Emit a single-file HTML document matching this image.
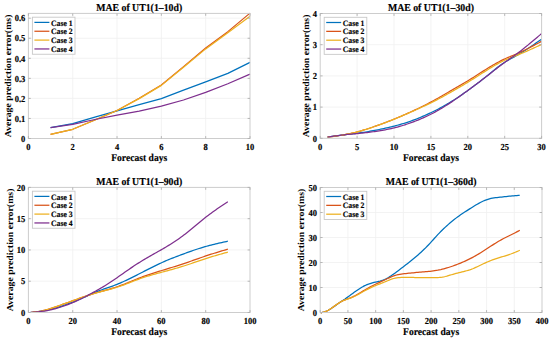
<!DOCTYPE html>
<html><head><meta charset="utf-8"><style>
html,body{margin:0;padding:0;background:#fff;}
body{width:550px;height:341px;overflow:hidden;}
svg text{font-family:"Liberation Serif", serif;font-weight:bold;fill:#000;stroke:#000;stroke-width:0.15px;text-rendering:geometricPrecision;}
svg text.yl{stroke-width:0;}
</style></head><body>
<svg width="550" height="341" viewBox="0 0 550 341" style="display:block">
<rect width="550" height="341" fill="#fff"/>
<line x1="72.72" y1="13.4" x2="72.72" y2="138.5" stroke="#f0f0f0" stroke-width="0.8"/>
<line x1="117.04" y1="13.4" x2="117.04" y2="138.5" stroke="#f0f0f0" stroke-width="0.8"/>
<line x1="161.36" y1="13.4" x2="161.36" y2="138.5" stroke="#f0f0f0" stroke-width="0.8"/>
<line x1="205.68" y1="13.4" x2="205.68" y2="138.5" stroke="#f0f0f0" stroke-width="0.8"/>
<line x1="28.4" y1="118.45" x2="250" y2="118.45" stroke="#f0f0f0" stroke-width="0.8"/>
<line x1="28.4" y1="98.4" x2="250" y2="98.4" stroke="#f0f0f0" stroke-width="0.8"/>
<line x1="28.4" y1="78.36" x2="250" y2="78.36" stroke="#f0f0f0" stroke-width="0.8"/>
<line x1="28.4" y1="58.31" x2="250" y2="58.31" stroke="#f0f0f0" stroke-width="0.8"/>
<line x1="28.4" y1="38.26" x2="250" y2="38.26" stroke="#f0f0f0" stroke-width="0.8"/>
<line x1="28.4" y1="18.21" x2="250" y2="18.21" stroke="#f0f0f0" stroke-width="0.8"/>
<polyline points="50.56,127.59 72.72,123.60 94.88,117.21 117.04,110.83 139.20,104.62 161.36,98.60 183.52,90.18 205.68,81.96 227.84,73.34 250.00,62.42" fill="none" stroke="#0072BD" stroke-width="1.25" stroke-linejoin="round"/>
<polyline points="50.56,134.29 72.72,129.28 94.88,120.00 117.04,110.49 139.20,98.20 161.36,84.97 183.52,66.61 205.68,48.08 227.84,31.64 250.00,13.12" fill="none" stroke="#D95319" stroke-width="1.25" stroke-linejoin="round"/>
<polyline points="50.56,134.29 72.72,129.28 94.88,120.00 117.04,110.49 139.20,98.60 161.36,85.37 183.52,67.33 205.68,48.89 227.84,32.65 250.00,16.21" fill="none" stroke="#EDB120" stroke-width="1.25" stroke-linejoin="round"/>
<polyline points="50.56,127.59 72.72,124.31 94.88,119.49 117.04,115.04 139.20,111.03 161.36,106.22 183.52,100.01 205.68,92.39 227.84,83.77 250.00,74.15" fill="none" stroke="#7E2F8E" stroke-width="1.25" stroke-linejoin="round"/>
<rect x="28.4" y="13.4" width="221.6" height="125.1" fill="none" stroke="#cdcdcd" stroke-width="1"/>
<line x1="28.4" y1="138.5" x2="28.4" y2="136.1" stroke="#b0b0b0" stroke-width="0.9"/>
<line x1="28.4" y1="13.4" x2="28.4" y2="15.8" stroke="#b0b0b0" stroke-width="0.9"/>
<line x1="72.72" y1="138.5" x2="72.72" y2="136.1" stroke="#b0b0b0" stroke-width="0.9"/>
<line x1="72.72" y1="13.4" x2="72.72" y2="15.8" stroke="#b0b0b0" stroke-width="0.9"/>
<line x1="117.04" y1="138.5" x2="117.04" y2="136.1" stroke="#b0b0b0" stroke-width="0.9"/>
<line x1="117.04" y1="13.4" x2="117.04" y2="15.8" stroke="#b0b0b0" stroke-width="0.9"/>
<line x1="161.36" y1="138.5" x2="161.36" y2="136.1" stroke="#b0b0b0" stroke-width="0.9"/>
<line x1="161.36" y1="13.4" x2="161.36" y2="15.8" stroke="#b0b0b0" stroke-width="0.9"/>
<line x1="205.68" y1="138.5" x2="205.68" y2="136.1" stroke="#b0b0b0" stroke-width="0.9"/>
<line x1="205.68" y1="13.4" x2="205.68" y2="15.8" stroke="#b0b0b0" stroke-width="0.9"/>
<line x1="250" y1="138.5" x2="250" y2="136.1" stroke="#b0b0b0" stroke-width="0.9"/>
<line x1="250" y1="13.4" x2="250" y2="15.8" stroke="#b0b0b0" stroke-width="0.9"/>
<line x1="28.4" y1="138.5" x2="30.8" y2="138.5" stroke="#b0b0b0" stroke-width="0.9"/>
<line x1="250" y1="138.5" x2="247.6" y2="138.5" stroke="#b0b0b0" stroke-width="0.9"/>
<line x1="28.4" y1="118.45" x2="30.8" y2="118.45" stroke="#b0b0b0" stroke-width="0.9"/>
<line x1="250" y1="118.45" x2="247.6" y2="118.45" stroke="#b0b0b0" stroke-width="0.9"/>
<line x1="28.4" y1="98.4" x2="30.8" y2="98.4" stroke="#b0b0b0" stroke-width="0.9"/>
<line x1="250" y1="98.4" x2="247.6" y2="98.4" stroke="#b0b0b0" stroke-width="0.9"/>
<line x1="28.4" y1="78.36" x2="30.8" y2="78.36" stroke="#b0b0b0" stroke-width="0.9"/>
<line x1="250" y1="78.36" x2="247.6" y2="78.36" stroke="#b0b0b0" stroke-width="0.9"/>
<line x1="28.4" y1="58.31" x2="30.8" y2="58.31" stroke="#b0b0b0" stroke-width="0.9"/>
<line x1="250" y1="58.31" x2="247.6" y2="58.31" stroke="#b0b0b0" stroke-width="0.9"/>
<line x1="28.4" y1="38.26" x2="30.8" y2="38.26" stroke="#b0b0b0" stroke-width="0.9"/>
<line x1="250" y1="38.26" x2="247.6" y2="38.26" stroke="#b0b0b0" stroke-width="0.9"/>
<line x1="28.4" y1="18.21" x2="30.8" y2="18.21" stroke="#b0b0b0" stroke-width="0.9"/>
<line x1="250" y1="18.21" x2="247.6" y2="18.21" stroke="#b0b0b0" stroke-width="0.9"/>
<text transform="translate(28.40,149.70) scale(1,1.08)" text-anchor="middle" font-size="8.5">0</text>
<text transform="translate(72.72,149.70) scale(1,1.08)" text-anchor="middle" font-size="8.5">2</text>
<text transform="translate(117.04,149.70) scale(1,1.08)" text-anchor="middle" font-size="8.5">4</text>
<text transform="translate(161.36,149.70) scale(1,1.08)" text-anchor="middle" font-size="8.5">6</text>
<text transform="translate(205.68,149.70) scale(1,1.08)" text-anchor="middle" font-size="8.5">8</text>
<text transform="translate(250.00,149.70) scale(1,1.08)" text-anchor="middle" font-size="8.5">10</text>
<text transform="translate(25.30,141.70) scale(1,1.08)" text-anchor="end" font-size="8.5">0</text>
<text transform="translate(25.30,121.65) scale(1,1.08)" text-anchor="end" font-size="8.5">0.1</text>
<text transform="translate(25.30,101.60) scale(1,1.08)" text-anchor="end" font-size="8.5">0.2</text>
<text transform="translate(25.30,81.56) scale(1,1.08)" text-anchor="end" font-size="8.5">0.3</text>
<text transform="translate(25.30,61.51) scale(1,1.08)" text-anchor="end" font-size="8.5">0.4</text>
<text transform="translate(25.30,41.46) scale(1,1.08)" text-anchor="end" font-size="8.5">0.5</text>
<text transform="translate(25.30,21.41) scale(1,1.08)" text-anchor="end" font-size="8.5">0.6</text>
<text transform="translate(139.20,10.50) scale(1,1.08)" text-anchor="middle" font-size="9.8">MAE of UT1(1–10d)</text>
<text transform="translate(139.20,160.90) scale(1,1.08)" text-anchor="middle" font-size="9.6">Forecast days</text>
<text transform="translate(10.80,75.95) scale(1,1.08) rotate(-90)" class="yl" text-anchor="middle" font-size="9.1">Average prediction error(ms)</text>
<rect x="32.4" y="17.2" width="42.6" height="37.05" fill="#fff" stroke="#c8c8c8" stroke-width="0.9"/>
<line x1="34.4" y1="22.4" x2="49.4" y2="22.4" stroke="#0072BD" stroke-width="1.25"/>
<text transform="translate(51.00,25.50) scale(1,1.08)" font-size="7.7">Case 1</text>
<line x1="34.4" y1="31.25" x2="49.4" y2="31.25" stroke="#D95319" stroke-width="1.25"/>
<text transform="translate(51.00,34.35) scale(1,1.08)" font-size="7.7">Case 2</text>
<line x1="34.4" y1="40.1" x2="49.4" y2="40.1" stroke="#EDB120" stroke-width="1.25"/>
<text transform="translate(51.00,43.20) scale(1,1.08)" font-size="7.7">Case 3</text>
<line x1="34.4" y1="48.95" x2="49.4" y2="48.95" stroke="#7E2F8E" stroke-width="1.25"/>
<text transform="translate(51.00,52.05) scale(1,1.08)" font-size="7.7">Case 4</text>
<line x1="357.1" y1="13.5" x2="357.1" y2="138.3" stroke="#f0f0f0" stroke-width="0.8"/>
<line x1="394" y1="13.5" x2="394" y2="138.3" stroke="#f0f0f0" stroke-width="0.8"/>
<line x1="430.9" y1="13.5" x2="430.9" y2="138.3" stroke="#f0f0f0" stroke-width="0.8"/>
<line x1="467.8" y1="13.5" x2="467.8" y2="138.3" stroke="#f0f0f0" stroke-width="0.8"/>
<line x1="504.7" y1="13.5" x2="504.7" y2="138.3" stroke="#f0f0f0" stroke-width="0.8"/>
<line x1="320.2" y1="107.1" x2="541.6" y2="107.1" stroke="#f0f0f0" stroke-width="0.8"/>
<line x1="320.2" y1="75.9" x2="541.6" y2="75.9" stroke="#f0f0f0" stroke-width="0.8"/>
<line x1="320.2" y1="44.7" x2="541.6" y2="44.7" stroke="#f0f0f0" stroke-width="0.8"/>
<polyline points="327.58,137.04 329.10,136.84 330.62,136.64 332.13,136.44 333.65,136.24 335.17,136.04 336.69,135.84 338.21,135.64 339.72,135.44 341.24,135.24 342.76,135.05 344.28,134.85 345.79,134.66 347.31,134.47 348.83,134.28 350.35,134.10 351.87,133.91 353.38,133.73 354.90,133.54 356.42,133.35 357.94,133.15 359.46,132.94 360.97,132.72 362.49,132.49 364.01,132.26 365.53,132.02 367.04,131.77 368.56,131.51 370.08,131.24 371.60,130.97 373.12,130.69 374.63,130.41 376.15,130.11 377.67,129.82 379.19,129.51 380.71,129.20 382.22,128.88 383.74,128.55 385.26,128.22 386.78,127.88 388.29,127.53 389.81,127.18 391.33,126.81 392.85,126.44 394.37,126.05 395.88,125.66 397.40,125.26 398.92,124.84 400.44,124.41 401.96,123.97 403.47,123.51 404.99,123.04 406.51,122.56 408.03,122.06 409.55,121.54 411.06,121.01 412.58,120.45 414.10,119.89 415.62,119.30 417.13,118.71 418.65,118.09 420.17,117.47 421.69,116.83 423.21,116.17 424.72,115.51 426.24,114.83 427.76,114.14 429.28,113.44 430.80,112.73 432.31,112.00 433.83,111.26 435.35,110.50 436.87,109.73 438.38,108.94 439.90,108.13 441.42,107.31 442.94,106.48 444.46,105.63 445.97,104.76 447.49,103.87 449.01,102.97 450.53,102.06 452.05,101.12 453.56,100.17 455.08,99.20 456.60,98.21 458.12,97.21 459.63,96.19 461.15,95.15 462.67,94.11 464.19,93.05 465.71,91.98 467.22,90.89 468.74,89.80 470.26,88.70 471.78,87.59 473.30,86.47 474.81,85.34 476.33,84.20 477.85,83.05 479.37,81.89 480.89,80.72 482.40,79.53 483.92,78.34 485.44,77.13 486.96,75.91 488.47,74.68 489.99,73.44 491.51,72.20 493.03,70.97 494.55,69.74 496.06,68.54 497.58,67.35 499.10,66.19 500.62,65.07 502.14,63.99 503.65,62.96 505.17,61.98 506.69,61.06 508.21,60.18 509.72,59.32 511.24,58.49 512.76,57.67 514.28,56.83 515.80,55.98 517.31,55.11 518.83,54.22 520.35,53.31 521.87,52.37 523.39,51.42 524.90,50.46 526.42,49.48 527.94,48.48 529.46,47.48 530.97,46.46 532.49,45.44 534.01,44.40 535.53,43.36 537.05,42.32 538.56,41.27 540.08,40.21 541.60,39.16" fill="none" stroke="#0072BD" stroke-width="1.25" stroke-linejoin="round"/>
<polyline points="327.58,137.12 329.10,136.94 330.62,136.74 332.13,136.55 333.65,136.35 335.17,136.15 336.69,135.94 338.21,135.73 339.72,135.50 341.24,135.27 342.76,135.02 344.28,134.76 345.79,134.49 347.31,134.20 348.83,133.90 350.35,133.57 351.87,133.23 353.38,132.88 354.90,132.50 356.42,132.11 357.94,131.71 359.46,131.29 360.97,130.86 362.49,130.41 364.01,129.95 365.53,129.49 367.04,129.01 368.56,128.52 370.08,128.02 371.60,127.51 373.12,126.99 374.63,126.46 376.15,125.93 377.67,125.38 379.19,124.83 380.71,124.28 382.22,123.72 383.74,123.15 385.26,122.57 386.78,121.99 388.29,121.41 389.81,120.81 391.33,120.21 392.85,119.60 394.37,118.99 395.88,118.37 397.40,117.74 398.92,117.11 400.44,116.46 401.96,115.81 403.47,115.16 404.99,114.50 406.51,113.83 408.03,113.15 409.55,112.47 411.06,111.78 412.58,111.08 414.10,110.37 415.62,109.66 417.13,108.94 418.65,108.21 420.17,107.48 421.69,106.74 423.21,105.99 424.72,105.23 426.24,104.46 427.76,103.69 429.28,102.90 430.80,102.10 432.31,101.29 433.83,100.47 435.35,99.63 436.87,98.78 438.38,97.93 439.90,97.06 441.42,96.19 442.94,95.32 444.46,94.44 445.97,93.55 447.49,92.67 449.01,91.78 450.53,90.89 452.05,90.00 453.56,89.12 455.08,88.24 456.60,87.37 458.12,86.49 459.63,85.62 461.15,84.74 462.67,83.86 464.19,82.98 465.71,82.08 467.22,81.17 468.74,80.25 470.26,79.32 471.78,78.37 473.30,77.42 474.81,76.45 476.33,75.48 477.85,74.51 479.37,73.54 480.89,72.57 482.40,71.60 483.92,70.63 485.44,69.68 486.96,68.73 488.47,67.79 489.99,66.87 491.51,65.96 493.03,65.07 494.55,64.19 496.06,63.34 497.58,62.51 499.10,61.70 500.62,60.91 502.14,60.15 503.65,59.42 505.17,58.72 506.69,58.04 508.21,57.39 509.72,56.75 511.24,56.12 512.76,55.49 514.28,54.85 515.80,54.20 517.31,53.53 518.83,52.85 520.35,52.15 521.87,51.43 523.39,50.71 524.90,49.97 526.42,49.22 527.94,48.46 529.46,47.69 530.97,46.91 532.49,46.12 534.01,45.33 535.53,44.54 537.05,43.74 538.56,42.94 540.08,42.13 541.60,41.33" fill="none" stroke="#D95319" stroke-width="1.25" stroke-linejoin="round"/>
<polyline points="327.58,137.12 329.10,136.93 330.62,136.74 332.13,136.55 333.65,136.35 335.17,136.15 336.69,135.94 338.21,135.72 339.72,135.50 341.24,135.26 342.76,135.02 344.28,134.76 345.79,134.49 347.31,134.20 348.83,133.89 350.35,133.57 351.87,133.23 353.38,132.88 354.90,132.50 356.42,132.11 357.94,131.71 359.46,131.30 360.97,130.87 362.49,130.42 364.01,129.97 365.53,129.51 367.04,129.03 368.56,128.55 370.08,128.05 371.60,127.54 373.12,127.03 374.63,126.51 376.15,125.98 377.67,125.44 379.19,124.89 380.71,124.34 382.22,123.79 383.74,123.22 385.26,122.65 386.78,122.07 388.29,121.49 389.81,120.90 391.33,120.30 392.85,119.70 394.37,119.09 395.88,118.47 397.40,117.84 398.92,117.21 400.44,116.57 401.96,115.93 403.47,115.28 404.99,114.63 406.51,113.97 408.03,113.31 409.55,112.65 411.06,111.98 412.58,111.31 414.10,110.63 415.62,109.96 417.13,109.28 418.65,108.59 420.17,107.90 421.69,107.21 423.21,106.52 424.72,105.82 426.24,105.11 427.76,104.40 429.28,103.68 430.80,102.94 432.31,102.19 433.83,101.43 435.35,100.65 436.87,99.86 438.38,99.06 439.90,98.25 441.42,97.43 442.94,96.59 444.46,95.75 445.97,94.91 447.49,94.06 449.01,93.20 450.53,92.34 452.05,91.47 453.56,90.60 455.08,89.73 456.60,88.86 458.12,87.99 459.63,87.11 461.15,86.23 462.67,85.35 464.19,84.45 465.71,83.55 467.22,82.64 468.74,81.71 470.26,80.78 471.78,79.83 473.30,78.88 474.81,77.92 476.33,76.96 477.85,75.99 479.37,75.02 480.89,74.05 482.40,73.08 483.92,72.12 485.44,71.16 486.96,70.20 488.47,69.25 489.99,68.31 491.51,67.39 493.03,66.47 494.55,65.58 496.06,64.71 497.58,63.86 499.10,63.03 500.62,62.24 502.14,61.47 503.65,60.74 505.17,60.05 506.69,59.39 508.21,58.76 509.72,58.15 511.24,57.56 512.76,56.97 514.28,56.38 515.80,55.79 517.31,55.18 518.83,54.56 520.35,53.93 521.87,53.29 523.39,52.65 524.90,51.99 526.42,51.33 527.94,50.66 529.46,49.98 530.97,49.30 532.49,48.61 534.01,47.92 535.53,47.23 537.05,46.53 538.56,45.83 540.08,45.13 541.60,44.43" fill="none" stroke="#EDB120" stroke-width="1.25" stroke-linejoin="round"/>
<polyline points="327.58,137.02 329.10,136.81 330.62,136.59 332.13,136.38 333.65,136.18 335.17,135.97 336.69,135.77 338.21,135.57 339.72,135.38 341.24,135.19 342.76,135.00 344.28,134.83 345.79,134.66 347.31,134.49 348.83,134.34 350.35,134.19 351.87,134.05 353.38,133.92 354.90,133.79 356.42,133.65 357.94,133.51 359.46,133.37 360.97,133.22 362.49,133.06 364.01,132.90 365.53,132.72 367.04,132.54 368.56,132.36 370.08,132.16 371.60,131.96 373.12,131.75 374.63,131.54 376.15,131.31 377.67,131.08 379.19,130.84 380.71,130.59 382.22,130.33 383.74,130.06 385.26,129.79 386.78,129.49 388.29,129.19 389.81,128.87 391.33,128.54 392.85,128.19 394.37,127.82 395.88,127.44 397.40,127.04 398.92,126.62 400.44,126.18 401.96,125.73 403.47,125.26 404.99,124.78 406.51,124.28 408.03,123.77 409.55,123.25 411.06,122.71 412.58,122.16 414.10,121.59 415.62,121.02 417.13,120.42 418.65,119.81 420.17,119.18 421.69,118.54 423.21,117.88 424.72,117.19 426.24,116.49 427.76,115.77 429.28,115.03 430.80,114.27 432.31,113.49 433.83,112.68 435.35,111.86 436.87,111.01 438.38,110.15 439.90,109.27 441.42,108.37 442.94,107.45 444.46,106.52 445.97,105.57 447.49,104.60 449.01,103.62 450.53,102.62 452.05,101.61 453.56,100.59 455.08,99.55 456.60,98.50 458.12,97.44 459.63,96.37 461.15,95.29 462.67,94.21 464.19,93.11 465.71,92.01 467.22,90.91 468.74,89.80 470.26,88.68 471.78,87.57 473.30,86.45 474.81,85.32 476.33,84.19 477.85,83.05 479.37,81.91 480.89,80.76 482.40,79.60 483.92,78.44 485.44,77.27 486.96,76.09 488.47,74.91 489.99,73.71 491.51,72.52 493.03,71.33 494.55,70.13 496.06,68.94 497.58,67.76 499.10,66.60 500.62,65.44 502.14,64.30 503.65,63.18 505.17,62.08 506.69,61.00 508.21,59.94 509.72,58.88 511.24,57.82 512.76,56.76 514.28,55.68 515.80,54.59 517.31,53.47 518.83,52.33 520.35,51.17 521.87,49.99 523.39,48.79 524.90,47.58 526.42,46.35 527.94,45.11 529.46,43.85 530.97,42.59 532.49,41.32 534.01,40.03 535.53,38.74 537.05,37.45 538.56,36.15 540.08,34.85 541.60,33.55" fill="none" stroke="#7E2F8E" stroke-width="1.25" stroke-linejoin="round"/>
<rect x="320.2" y="13.5" width="221.4" height="124.8" fill="none" stroke="#cdcdcd" stroke-width="1"/>
<line x1="320.2" y1="138.3" x2="320.2" y2="135.9" stroke="#b0b0b0" stroke-width="0.9"/>
<line x1="320.2" y1="13.5" x2="320.2" y2="15.9" stroke="#b0b0b0" stroke-width="0.9"/>
<line x1="357.1" y1="138.3" x2="357.1" y2="135.9" stroke="#b0b0b0" stroke-width="0.9"/>
<line x1="357.1" y1="13.5" x2="357.1" y2="15.9" stroke="#b0b0b0" stroke-width="0.9"/>
<line x1="394" y1="138.3" x2="394" y2="135.9" stroke="#b0b0b0" stroke-width="0.9"/>
<line x1="394" y1="13.5" x2="394" y2="15.9" stroke="#b0b0b0" stroke-width="0.9"/>
<line x1="430.9" y1="138.3" x2="430.9" y2="135.9" stroke="#b0b0b0" stroke-width="0.9"/>
<line x1="430.9" y1="13.5" x2="430.9" y2="15.9" stroke="#b0b0b0" stroke-width="0.9"/>
<line x1="467.8" y1="138.3" x2="467.8" y2="135.9" stroke="#b0b0b0" stroke-width="0.9"/>
<line x1="467.8" y1="13.5" x2="467.8" y2="15.9" stroke="#b0b0b0" stroke-width="0.9"/>
<line x1="504.7" y1="138.3" x2="504.7" y2="135.9" stroke="#b0b0b0" stroke-width="0.9"/>
<line x1="504.7" y1="13.5" x2="504.7" y2="15.9" stroke="#b0b0b0" stroke-width="0.9"/>
<line x1="541.6" y1="138.3" x2="541.6" y2="135.9" stroke="#b0b0b0" stroke-width="0.9"/>
<line x1="541.6" y1="13.5" x2="541.6" y2="15.9" stroke="#b0b0b0" stroke-width="0.9"/>
<line x1="320.2" y1="138.3" x2="322.6" y2="138.3" stroke="#b0b0b0" stroke-width="0.9"/>
<line x1="541.6" y1="138.3" x2="539.2" y2="138.3" stroke="#b0b0b0" stroke-width="0.9"/>
<line x1="320.2" y1="107.1" x2="322.6" y2="107.1" stroke="#b0b0b0" stroke-width="0.9"/>
<line x1="541.6" y1="107.1" x2="539.2" y2="107.1" stroke="#b0b0b0" stroke-width="0.9"/>
<line x1="320.2" y1="75.9" x2="322.6" y2="75.9" stroke="#b0b0b0" stroke-width="0.9"/>
<line x1="541.6" y1="75.9" x2="539.2" y2="75.9" stroke="#b0b0b0" stroke-width="0.9"/>
<line x1="320.2" y1="44.7" x2="322.6" y2="44.7" stroke="#b0b0b0" stroke-width="0.9"/>
<line x1="541.6" y1="44.7" x2="539.2" y2="44.7" stroke="#b0b0b0" stroke-width="0.9"/>
<line x1="320.2" y1="13.5" x2="322.6" y2="13.5" stroke="#b0b0b0" stroke-width="0.9"/>
<line x1="541.6" y1="13.5" x2="539.2" y2="13.5" stroke="#b0b0b0" stroke-width="0.9"/>
<text transform="translate(320.20,149.50) scale(1,1.08)" text-anchor="middle" font-size="8.5">0</text>
<text transform="translate(357.10,149.50) scale(1,1.08)" text-anchor="middle" font-size="8.5">5</text>
<text transform="translate(394.00,149.50) scale(1,1.08)" text-anchor="middle" font-size="8.5">10</text>
<text transform="translate(430.90,149.50) scale(1,1.08)" text-anchor="middle" font-size="8.5">15</text>
<text transform="translate(467.80,149.50) scale(1,1.08)" text-anchor="middle" font-size="8.5">20</text>
<text transform="translate(504.70,149.50) scale(1,1.08)" text-anchor="middle" font-size="8.5">25</text>
<text transform="translate(541.60,149.50) scale(1,1.08)" text-anchor="middle" font-size="8.5">30</text>
<text transform="translate(317.10,141.50) scale(1,1.08)" text-anchor="end" font-size="8.5">0</text>
<text transform="translate(317.10,110.30) scale(1,1.08)" text-anchor="end" font-size="8.5">1</text>
<text transform="translate(317.10,79.10) scale(1,1.08)" text-anchor="end" font-size="8.5">2</text>
<text transform="translate(317.10,47.90) scale(1,1.08)" text-anchor="end" font-size="8.5">3</text>
<text transform="translate(317.10,16.70) scale(1,1.08)" text-anchor="end" font-size="8.5">4</text>
<text transform="translate(430.90,10.60) scale(1,1.08)" text-anchor="middle" font-size="9.8">MAE of UT1(1–30d)</text>
<text transform="translate(430.90,160.70) scale(1,1.08)" text-anchor="middle" font-size="9.6">Forecast days</text>
<text transform="translate(308.70,75.90) scale(1,1.08) rotate(-90)" class="yl" text-anchor="middle" font-size="9.1">Average prediction error(ms)</text>
<rect x="324.2" y="17.3" width="42.6" height="37.05" fill="#fff" stroke="#c8c8c8" stroke-width="0.9"/>
<line x1="326.2" y1="22.5" x2="341.2" y2="22.5" stroke="#0072BD" stroke-width="1.25"/>
<text transform="translate(342.80,25.60) scale(1,1.08)" font-size="7.7">Case 1</text>
<line x1="326.2" y1="31.35" x2="341.2" y2="31.35" stroke="#D95319" stroke-width="1.25"/>
<text transform="translate(342.80,34.45) scale(1,1.08)" font-size="7.7">Case 2</text>
<line x1="326.2" y1="40.2" x2="341.2" y2="40.2" stroke="#EDB120" stroke-width="1.25"/>
<text transform="translate(342.80,43.30) scale(1,1.08)" font-size="7.7">Case 3</text>
<line x1="326.2" y1="49.05" x2="341.2" y2="49.05" stroke="#7E2F8E" stroke-width="1.25"/>
<text transform="translate(342.80,52.15) scale(1,1.08)" font-size="7.7">Case 4</text>
<line x1="72.72" y1="187.4" x2="72.72" y2="312.5" stroke="#f0f0f0" stroke-width="0.8"/>
<line x1="117.04" y1="187.4" x2="117.04" y2="312.5" stroke="#f0f0f0" stroke-width="0.8"/>
<line x1="161.36" y1="187.4" x2="161.36" y2="312.5" stroke="#f0f0f0" stroke-width="0.8"/>
<line x1="205.68" y1="187.4" x2="205.68" y2="312.5" stroke="#f0f0f0" stroke-width="0.8"/>
<line x1="28.4" y1="281.23" x2="250" y2="281.23" stroke="#f0f0f0" stroke-width="0.8"/>
<line x1="28.4" y1="249.95" x2="250" y2="249.95" stroke="#f0f0f0" stroke-width="0.8"/>
<line x1="28.4" y1="218.68" x2="250" y2="218.68" stroke="#f0f0f0" stroke-width="0.8"/>
<polyline points="30.62,312.42 32.13,312.28 33.65,312.13 35.17,311.98 36.68,311.81 38.20,311.64 39.72,311.44 41.24,311.23 42.75,310.99 44.27,310.74 45.79,310.45 47.30,310.15 48.82,309.81 50.34,309.46 51.86,309.07 53.37,308.66 54.89,308.23 56.41,307.77 57.92,307.30 59.44,306.81 60.96,306.31 62.48,305.80 63.99,305.28 65.51,304.75 67.03,304.21 68.54,303.66 70.06,303.10 71.58,302.54 73.10,301.96 74.61,301.38 76.13,300.79 77.65,300.17 79.16,299.54 80.68,298.89 82.20,298.21 83.71,297.52 85.23,296.81 86.75,296.10 88.27,295.39 89.78,294.68 91.30,293.98 92.82,293.30 94.33,292.65 95.85,292.02 97.37,291.42 98.89,290.84 100.40,290.28 101.92,289.74 103.44,289.21 104.95,288.68 106.47,288.16 107.99,287.64 109.51,287.11 111.02,286.58 112.54,286.04 114.06,285.48 115.57,284.91 117.09,284.32 118.61,283.70 120.13,283.06 121.64,282.41 123.16,281.73 124.68,281.04 126.19,280.34 127.71,279.62 129.23,278.88 130.75,278.14 132.26,277.39 133.78,276.62 135.30,275.85 136.81,275.08 138.33,274.30 139.85,273.52 141.36,272.74 142.88,271.96 144.40,271.17 145.92,270.40 147.43,269.62 148.95,268.85 150.47,268.08 151.98,267.32 153.50,266.57 155.02,265.82 156.54,265.09 158.05,264.36 159.57,263.65 161.09,262.95 162.60,262.27 164.12,261.60 165.64,260.94 167.16,260.29 168.67,259.66 170.19,259.04 171.71,258.42 173.22,257.82 174.74,257.22 176.26,256.64 177.78,256.06 179.29,255.48 180.81,254.91 182.33,254.35 183.84,253.79 185.36,253.23 186.88,252.68 188.40,252.13 189.91,251.59 191.43,251.06 192.95,250.53 194.46,250.01 195.98,249.50 197.50,249.00 199.01,248.51 200.53,248.03 202.05,247.57 203.57,247.11 205.08,246.67 206.60,246.24 208.12,245.83 209.63,245.42 211.15,245.03 212.67,244.65 214.19,244.28 215.70,243.92 217.22,243.57 218.74,243.22 220.25,242.88 221.77,242.54 223.29,242.21 224.81,241.88 226.32,241.55 227.84,241.23" fill="none" stroke="#0072BD" stroke-width="1.25" stroke-linejoin="round"/>
<polyline points="30.62,312.50 32.13,312.33 33.65,312.15 35.17,311.97 36.68,311.76 38.20,311.54 39.72,311.28 41.24,310.99 42.75,310.66 44.27,310.30 45.79,309.91 47.30,309.49 48.82,309.05 50.34,308.59 51.86,308.11 53.37,307.61 54.89,307.10 56.41,306.58 57.92,306.06 59.44,305.52 60.96,304.98 62.48,304.45 63.99,303.91 65.51,303.37 67.03,302.83 68.54,302.29 70.06,301.75 71.58,301.20 73.10,300.65 74.61,300.10 76.13,299.55 77.65,299.00 79.16,298.45 80.68,297.91 82.20,297.37 83.71,296.84 85.23,296.32 86.75,295.81 88.27,295.31 89.78,294.81 91.30,294.33 92.82,293.86 94.33,293.39 95.85,292.94 97.37,292.50 98.89,292.06 100.40,291.64 101.92,291.21 103.44,290.79 104.95,290.37 106.47,289.95 107.99,289.53 109.51,289.10 111.02,288.67 112.54,288.22 114.06,287.76 115.57,287.28 117.09,286.78 118.61,286.25 120.13,285.71 121.64,285.14 123.16,284.56 124.68,283.96 126.19,283.35 127.71,282.74 129.23,282.12 130.75,281.49 132.26,280.87 133.78,280.25 135.30,279.63 136.81,279.02 138.33,278.42 139.85,277.83 141.36,277.26 142.88,276.70 144.40,276.16 145.92,275.62 147.43,275.10 148.95,274.59 150.47,274.08 151.98,273.59 153.50,273.10 155.02,272.62 156.54,272.14 158.05,271.67 159.57,271.20 161.09,270.73 162.60,270.27 164.12,269.81 165.64,269.34 167.16,268.88 168.67,268.42 170.19,267.96 171.71,267.49 173.22,267.02 174.74,266.55 176.26,266.07 177.78,265.59 179.29,265.11 180.81,264.62 182.33,264.12 183.84,263.61 185.36,263.10 186.88,262.58 188.40,262.05 189.91,261.52 191.43,260.99 192.95,260.45 194.46,259.91 195.98,259.37 197.50,258.84 199.01,258.30 200.53,257.77 202.05,257.24 203.57,256.72 205.08,256.21 206.60,255.70 208.12,255.20 209.63,254.70 211.15,254.21 212.67,253.73 214.19,253.26 215.70,252.78 217.22,252.32 218.74,251.85 220.25,251.39 221.77,250.94 223.29,250.48 224.81,250.03 226.32,249.57 227.84,249.12" fill="none" stroke="#D95319" stroke-width="1.25" stroke-linejoin="round"/>
<polyline points="30.62,312.50 32.13,312.33 33.65,312.15 35.17,311.97 36.68,311.76 38.20,311.54 39.72,311.28 41.24,310.99 42.75,310.66 44.27,310.30 45.79,309.91 47.30,309.49 48.82,309.05 50.34,308.59 51.86,308.11 53.37,307.61 54.89,307.10 56.41,306.58 57.92,306.05 59.44,305.52 60.96,304.98 62.48,304.44 63.99,303.90 65.51,303.37 67.03,302.83 68.54,302.28 70.06,301.74 71.58,301.20 73.10,300.65 74.61,300.10 76.13,299.55 77.65,299.00 79.16,298.45 80.68,297.91 82.20,297.38 83.71,296.86 85.23,296.35 86.75,295.85 88.27,295.36 89.78,294.88 91.30,294.41 92.82,293.95 94.33,293.50 95.85,293.07 97.37,292.64 98.89,292.23 100.40,291.82 101.92,291.41 103.44,291.02 104.95,290.62 106.47,290.23 107.99,289.83 109.51,289.43 111.02,289.03 112.54,288.61 114.06,288.18 115.57,287.73 117.09,287.26 118.61,286.76 120.13,286.24 121.64,285.70 123.16,285.14 124.68,284.57 126.19,283.98 127.71,283.39 129.23,282.80 130.75,282.20 132.26,281.60 133.78,281.01 135.30,280.43 136.81,279.85 138.33,279.29 139.85,278.75 141.36,278.22 142.88,277.71 144.40,277.21 145.92,276.73 147.43,276.26 148.95,275.80 150.47,275.35 151.98,274.91 153.50,274.48 155.02,274.05 156.54,273.64 158.05,273.22 159.57,272.81 161.09,272.41 162.60,272.00 164.12,271.59 165.64,271.19 167.16,270.78 168.67,270.37 170.19,269.96 171.71,269.54 173.22,269.12 174.74,268.69 176.26,268.26 177.78,267.82 179.29,267.38 180.81,266.92 182.33,266.46 183.84,265.98 185.36,265.49 186.88,265.00 188.40,264.50 189.91,263.99 191.43,263.47 192.95,262.95 194.46,262.43 195.98,261.91 197.50,261.39 199.01,260.87 200.53,260.35 202.05,259.84 203.57,259.34 205.08,258.84 206.60,258.35 208.12,257.87 209.63,257.39 211.15,256.93 212.67,256.47 214.19,256.02 215.70,255.57 217.22,255.13 218.74,254.69 220.25,254.25 221.77,253.82 223.29,253.40 224.81,252.97 226.32,252.54 227.84,252.12" fill="none" stroke="#EDB120" stroke-width="1.25" stroke-linejoin="round"/>
<polyline points="30.62,312.40 32.13,312.28 33.65,312.16 35.17,312.04 36.68,311.91 38.20,311.76 39.72,311.60 41.24,311.43 42.75,311.24 44.27,311.03 45.79,310.79 47.30,310.53 48.82,310.25 50.34,309.93 51.86,309.59 53.37,309.22 54.89,308.82 56.41,308.40 57.92,307.96 59.44,307.49 60.96,307.01 62.48,306.50 63.99,305.99 65.51,305.45 67.03,304.90 68.54,304.33 70.06,303.74 71.58,303.13 73.10,302.50 74.61,301.86 76.13,301.19 77.65,300.50 79.16,299.79 80.68,299.06 82.20,298.31 83.71,297.54 85.23,296.75 86.75,295.95 88.27,295.14 89.78,294.31 91.30,293.47 92.82,292.63 94.33,291.79 95.85,290.95 97.37,290.10 98.89,289.25 100.40,288.39 101.92,287.51 103.44,286.62 104.95,285.71 106.47,284.78 107.99,283.82 109.51,282.83 111.02,281.83 112.54,280.80 114.06,279.77 115.57,278.72 117.09,277.67 118.61,276.61 120.13,275.54 121.64,274.48 123.16,273.41 124.68,272.35 126.19,271.29 127.71,270.23 129.23,269.18 130.75,268.14 132.26,267.11 133.78,266.09 135.30,265.09 136.81,264.09 138.33,263.12 139.85,262.16 141.36,261.22 142.88,260.30 144.40,259.39 145.92,258.50 147.43,257.61 148.95,256.74 150.47,255.87 151.98,255.01 153.50,254.15 155.02,253.29 156.54,252.44 158.05,251.58 159.57,250.72 161.09,249.85 162.60,248.97 164.12,248.09 165.64,247.20 167.16,246.29 168.67,245.37 170.19,244.44 171.71,243.48 173.22,242.52 174.74,241.53 176.26,240.52 177.78,239.48 179.29,238.42 180.81,237.34 182.33,236.23 183.84,235.09 185.36,233.92 186.88,232.72 188.40,231.51 189.91,230.27 191.43,229.02 192.95,227.76 194.46,226.49 195.98,225.22 197.50,223.95 199.01,222.69 200.53,221.43 202.05,220.19 203.57,218.96 205.08,217.75 206.60,216.57 208.12,215.41 209.63,214.27 211.15,213.15 212.67,212.05 214.19,210.97 215.70,209.91 217.22,208.85 218.74,207.81 220.25,206.79 221.77,205.76 223.29,204.75 224.81,203.74 226.32,202.74 227.84,201.73" fill="none" stroke="#7E2F8E" stroke-width="1.25" stroke-linejoin="round"/>
<rect x="28.4" y="187.4" width="221.6" height="125.1" fill="none" stroke="#cdcdcd" stroke-width="1"/>
<line x1="28.4" y1="312.5" x2="28.4" y2="310.1" stroke="#b0b0b0" stroke-width="0.9"/>
<line x1="28.4" y1="187.4" x2="28.4" y2="189.8" stroke="#b0b0b0" stroke-width="0.9"/>
<line x1="72.72" y1="312.5" x2="72.72" y2="310.1" stroke="#b0b0b0" stroke-width="0.9"/>
<line x1="72.72" y1="187.4" x2="72.72" y2="189.8" stroke="#b0b0b0" stroke-width="0.9"/>
<line x1="117.04" y1="312.5" x2="117.04" y2="310.1" stroke="#b0b0b0" stroke-width="0.9"/>
<line x1="117.04" y1="187.4" x2="117.04" y2="189.8" stroke="#b0b0b0" stroke-width="0.9"/>
<line x1="161.36" y1="312.5" x2="161.36" y2="310.1" stroke="#b0b0b0" stroke-width="0.9"/>
<line x1="161.36" y1="187.4" x2="161.36" y2="189.8" stroke="#b0b0b0" stroke-width="0.9"/>
<line x1="205.68" y1="312.5" x2="205.68" y2="310.1" stroke="#b0b0b0" stroke-width="0.9"/>
<line x1="205.68" y1="187.4" x2="205.68" y2="189.8" stroke="#b0b0b0" stroke-width="0.9"/>
<line x1="250" y1="312.5" x2="250" y2="310.1" stroke="#b0b0b0" stroke-width="0.9"/>
<line x1="250" y1="187.4" x2="250" y2="189.8" stroke="#b0b0b0" stroke-width="0.9"/>
<line x1="28.4" y1="312.5" x2="30.8" y2="312.5" stroke="#b0b0b0" stroke-width="0.9"/>
<line x1="250" y1="312.5" x2="247.6" y2="312.5" stroke="#b0b0b0" stroke-width="0.9"/>
<line x1="28.4" y1="281.23" x2="30.8" y2="281.23" stroke="#b0b0b0" stroke-width="0.9"/>
<line x1="250" y1="281.23" x2="247.6" y2="281.23" stroke="#b0b0b0" stroke-width="0.9"/>
<line x1="28.4" y1="249.95" x2="30.8" y2="249.95" stroke="#b0b0b0" stroke-width="0.9"/>
<line x1="250" y1="249.95" x2="247.6" y2="249.95" stroke="#b0b0b0" stroke-width="0.9"/>
<line x1="28.4" y1="218.68" x2="30.8" y2="218.68" stroke="#b0b0b0" stroke-width="0.9"/>
<line x1="250" y1="218.68" x2="247.6" y2="218.68" stroke="#b0b0b0" stroke-width="0.9"/>
<line x1="28.4" y1="187.4" x2="30.8" y2="187.4" stroke="#b0b0b0" stroke-width="0.9"/>
<line x1="250" y1="187.4" x2="247.6" y2="187.4" stroke="#b0b0b0" stroke-width="0.9"/>
<text transform="translate(28.40,323.70) scale(1,1.08)" text-anchor="middle" font-size="8.5">0</text>
<text transform="translate(72.72,323.70) scale(1,1.08)" text-anchor="middle" font-size="8.5">20</text>
<text transform="translate(117.04,323.70) scale(1,1.08)" text-anchor="middle" font-size="8.5">40</text>
<text transform="translate(161.36,323.70) scale(1,1.08)" text-anchor="middle" font-size="8.5">60</text>
<text transform="translate(205.68,323.70) scale(1,1.08)" text-anchor="middle" font-size="8.5">80</text>
<text transform="translate(250.00,323.70) scale(1,1.08)" text-anchor="middle" font-size="8.5">100</text>
<text transform="translate(25.30,315.70) scale(1,1.08)" text-anchor="end" font-size="8.5">0</text>
<text transform="translate(25.30,284.43) scale(1,1.08)" text-anchor="end" font-size="8.5">5</text>
<text transform="translate(25.30,253.15) scale(1,1.08)" text-anchor="end" font-size="8.5">10</text>
<text transform="translate(25.30,221.88) scale(1,1.08)" text-anchor="end" font-size="8.5">15</text>
<text transform="translate(25.30,190.60) scale(1,1.08)" text-anchor="end" font-size="8.5">20</text>
<text transform="translate(139.20,184.50) scale(1,1.08)" text-anchor="middle" font-size="9.8">MAE of UT1(1–90d)</text>
<text transform="translate(139.20,334.90) scale(1,1.08)" text-anchor="middle" font-size="9.6">Forecast days</text>
<text transform="translate(12.80,249.95) scale(1,1.08) rotate(-90)" class="yl" text-anchor="middle" font-size="9.1">Average prediction error(ms)</text>
<rect x="32.4" y="191.2" width="42.6" height="37.05" fill="#fff" stroke="#c8c8c8" stroke-width="0.9"/>
<line x1="34.4" y1="196.4" x2="49.4" y2="196.4" stroke="#0072BD" stroke-width="1.25"/>
<text transform="translate(51.00,199.50) scale(1,1.08)" font-size="7.7">Case 1</text>
<line x1="34.4" y1="205.25" x2="49.4" y2="205.25" stroke="#D95319" stroke-width="1.25"/>
<text transform="translate(51.00,208.35) scale(1,1.08)" font-size="7.7">Case 2</text>
<line x1="34.4" y1="214.1" x2="49.4" y2="214.1" stroke="#EDB120" stroke-width="1.25"/>
<text transform="translate(51.00,217.20) scale(1,1.08)" font-size="7.7">Case 3</text>
<line x1="34.4" y1="222.95" x2="49.4" y2="222.95" stroke="#7E2F8E" stroke-width="1.25"/>
<text transform="translate(51.00,226.05) scale(1,1.08)" font-size="7.7">Case 4</text>
<line x1="347.93" y1="187.5" x2="347.93" y2="312.5" stroke="#f0f0f0" stroke-width="0.8"/>
<line x1="375.65" y1="187.5" x2="375.65" y2="312.5" stroke="#f0f0f0" stroke-width="0.8"/>
<line x1="403.38" y1="187.5" x2="403.38" y2="312.5" stroke="#f0f0f0" stroke-width="0.8"/>
<line x1="431.1" y1="187.5" x2="431.1" y2="312.5" stroke="#f0f0f0" stroke-width="0.8"/>
<line x1="458.82" y1="187.5" x2="458.82" y2="312.5" stroke="#f0f0f0" stroke-width="0.8"/>
<line x1="486.55" y1="187.5" x2="486.55" y2="312.5" stroke="#f0f0f0" stroke-width="0.8"/>
<line x1="514.27" y1="187.5" x2="514.27" y2="312.5" stroke="#f0f0f0" stroke-width="0.8"/>
<line x1="320.2" y1="287.5" x2="542" y2="287.5" stroke="#f0f0f0" stroke-width="0.8"/>
<line x1="320.2" y1="262.5" x2="542" y2="262.5" stroke="#f0f0f0" stroke-width="0.8"/>
<line x1="320.2" y1="237.5" x2="542" y2="237.5" stroke="#f0f0f0" stroke-width="0.8"/>
<line x1="320.2" y1="212.5" x2="542" y2="212.5" stroke="#f0f0f0" stroke-width="0.8"/>
<polyline points="320.75,312.77 322.27,312.45 323.79,312.08 325.31,311.59 326.83,310.97 328.35,310.21 329.87,309.33 331.39,308.35 332.91,307.30 334.43,306.22 335.95,305.14 337.47,304.07 338.99,303.03 340.51,302.00 342.03,300.99 343.55,299.98 345.07,298.96 346.59,297.88 348.11,296.78 349.63,295.66 351.15,294.54 352.67,293.42 354.19,292.33 355.70,291.25 357.22,290.21 358.74,289.19 360.26,288.22 361.78,287.29 363.30,286.43 364.82,285.65 366.34,284.95 367.86,284.33 369.38,283.78 370.90,283.30 372.42,282.87 373.94,282.47 375.46,282.11 376.98,281.77 378.50,281.43 380.02,281.06 381.54,280.64 383.06,280.15 384.58,279.56 386.10,278.86 387.62,278.04 389.14,277.13 390.66,276.14 392.17,275.10 393.69,274.01 395.21,272.91 396.73,271.78 398.25,270.65 399.77,269.50 401.29,268.34 402.81,267.18 404.33,266.02 405.85,264.85 407.37,263.67 408.89,262.48 410.41,261.27 411.93,260.05 413.45,258.81 414.97,257.54 416.49,256.25 418.01,254.93 419.53,253.58 421.05,252.20 422.57,250.78 424.09,249.32 425.61,247.83 427.13,246.30 428.64,244.72 430.16,243.09 431.68,241.43 433.20,239.74 434.72,238.04 436.24,236.36 437.76,234.70 439.28,233.09 440.80,231.53 442.32,230.01 443.84,228.54 445.36,227.12 446.88,225.73 448.40,224.38 449.92,223.06 451.44,221.78 452.96,220.53 454.48,219.31 456.00,218.13 457.52,217.00 459.04,215.90 460.56,214.84 462.08,213.82 463.60,212.82 465.11,211.83 466.63,210.86 468.15,209.88 469.67,208.90 471.19,207.92 472.71,206.96 474.23,206.01 475.75,205.08 477.27,204.18 478.79,203.33 480.31,202.51 481.83,201.74 483.35,201.03 484.87,200.38 486.39,199.80 487.91,199.29 489.43,198.85 490.95,198.48 492.47,198.18 493.99,197.92 495.51,197.71 497.03,197.53 498.55,197.35 500.07,197.18 501.58,197.02 503.10,196.86 504.62,196.70 506.14,196.54 507.66,196.39 509.18,196.24 510.70,196.09 512.22,195.94 513.74,195.80 515.26,195.66 516.78,195.52 518.30,195.38 519.82,195.25" fill="none" stroke="#0072BD" stroke-width="1.25" stroke-linejoin="round"/>
<polyline points="320.75,312.78 322.27,312.46 323.79,312.08 325.31,311.59 326.83,310.96 328.35,310.20 329.87,309.30 331.39,308.30 332.91,307.22 334.43,306.12 335.95,305.02 337.47,303.94 338.99,302.93 340.51,301.99 342.03,301.16 343.55,300.45 345.07,299.82 346.59,299.25 348.11,298.70 349.63,298.15 351.15,297.56 352.67,296.91 354.19,296.18 355.70,295.39 357.22,294.54 358.74,293.66 360.26,292.75 361.78,291.82 363.30,290.90 364.82,289.98 366.34,289.09 367.86,288.21 369.38,287.37 370.90,286.55 372.42,285.75 373.94,284.98 375.46,284.24 376.98,283.52 378.50,282.82 380.02,282.13 381.54,281.44 383.06,280.75 384.58,280.04 386.10,279.30 387.62,278.56 389.14,277.82 390.66,277.11 392.17,276.46 393.69,275.88 395.21,275.39 396.73,274.98 398.25,274.64 399.77,274.36 401.29,274.12 402.81,273.92 404.33,273.73 405.85,273.55 407.37,273.38 408.89,273.22 410.41,273.06 411.93,272.91 413.45,272.76 414.97,272.61 416.49,272.46 418.01,272.31 419.53,272.17 421.05,272.03 422.57,271.90 424.09,271.78 425.61,271.66 427.13,271.54 428.64,271.41 430.16,271.27 431.68,271.11 433.20,270.93 434.72,270.72 436.24,270.48 437.76,270.22 439.28,269.92 440.80,269.60 442.32,269.23 443.84,268.84 445.36,268.42 446.88,267.97 448.40,267.50 449.92,267.01 451.44,266.50 452.96,265.97 454.48,265.42 456.00,264.85 457.52,264.27 459.04,263.67 460.56,263.06 462.08,262.42 463.60,261.77 465.11,261.09 466.63,260.40 468.15,259.67 469.67,258.93 471.19,258.15 472.71,257.35 474.23,256.52 475.75,255.66 477.27,254.78 478.79,253.87 480.31,252.95 481.83,252.01 483.35,251.05 484.87,250.07 486.39,249.09 487.91,248.10 489.43,247.10 490.95,246.10 492.47,245.11 493.99,244.13 495.51,243.17 497.03,242.23 498.55,241.32 500.07,240.44 501.58,239.60 503.10,238.78 504.62,238.00 506.14,237.23 507.66,236.48 509.18,235.73 510.70,234.98 512.22,234.23 513.74,233.47 515.26,232.69 516.78,231.89 518.30,231.09 519.82,230.28" fill="none" stroke="#D95319" stroke-width="1.25" stroke-linejoin="round"/>
<polyline points="320.75,312.78 322.27,312.46 323.79,312.08 325.31,311.59 326.83,310.96 328.35,310.19 329.87,309.29 331.39,308.29 332.91,307.22 334.43,306.11 335.95,305.01 337.47,303.94 338.99,302.92 340.51,302.00 342.03,301.18 343.55,300.48 345.07,299.88 346.59,299.35 348.11,298.84 349.63,298.33 351.15,297.79 352.67,297.18 354.19,296.49 355.70,295.75 357.22,294.96 358.74,294.13 360.26,293.28 361.78,292.42 363.30,291.57 364.82,290.72 366.34,289.91 367.86,289.12 369.38,288.36 370.90,287.64 372.42,286.94 373.94,286.26 375.46,285.62 376.98,285.00 378.50,284.40 380.02,283.81 381.54,283.22 383.06,282.62 384.58,282.01 386.10,281.37 387.62,280.72 389.14,280.09 390.66,279.49 392.17,278.95 393.69,278.49 395.21,278.14 396.73,277.87 398.25,277.69 399.77,277.56 401.29,277.49 402.81,277.45 404.33,277.42 405.85,277.41 407.37,277.41 408.89,277.42 410.41,277.44 411.93,277.46 413.45,277.48 414.97,277.51 416.49,277.54 418.01,277.56 419.53,277.59 421.05,277.62 422.57,277.64 424.09,277.67 425.61,277.69 427.13,277.71 428.64,277.72 430.16,277.73 431.68,277.74 433.20,277.74 434.72,277.72 436.24,277.67 437.76,277.60 439.28,277.48 440.80,277.32 442.32,277.10 443.84,276.82 445.36,276.49 446.88,276.10 448.40,275.67 449.92,275.21 451.44,274.75 452.96,274.29 454.48,273.84 456.00,273.43 457.52,273.05 459.04,272.67 460.56,272.31 462.08,271.94 463.60,271.56 465.11,271.17 466.63,270.75 468.15,270.30 469.67,269.82 471.19,269.30 472.71,268.72 474.23,268.10 475.75,267.43 477.27,266.73 478.79,266.00 480.31,265.27 481.83,264.53 483.35,263.79 484.87,263.08 486.39,262.39 487.91,261.73 489.43,261.11 490.95,260.52 492.47,259.96 493.99,259.42 495.51,258.90 497.03,258.40 498.55,257.92 500.07,257.44 501.58,256.97 503.10,256.50 504.62,256.03 506.14,255.55 507.66,255.06 509.18,254.55 510.70,254.03 512.22,253.47 513.74,252.89 515.26,252.28 516.78,251.63 518.30,250.97 519.82,250.30" fill="none" stroke="#EDB120" stroke-width="1.25" stroke-linejoin="round"/>
<rect x="320.2" y="187.5" width="221.8" height="125" fill="none" stroke="#cdcdcd" stroke-width="1"/>
<line x1="320.2" y1="312.5" x2="320.2" y2="310.1" stroke="#b0b0b0" stroke-width="0.9"/>
<line x1="320.2" y1="187.5" x2="320.2" y2="189.9" stroke="#b0b0b0" stroke-width="0.9"/>
<line x1="347.93" y1="312.5" x2="347.93" y2="310.1" stroke="#b0b0b0" stroke-width="0.9"/>
<line x1="347.93" y1="187.5" x2="347.93" y2="189.9" stroke="#b0b0b0" stroke-width="0.9"/>
<line x1="375.65" y1="312.5" x2="375.65" y2="310.1" stroke="#b0b0b0" stroke-width="0.9"/>
<line x1="375.65" y1="187.5" x2="375.65" y2="189.9" stroke="#b0b0b0" stroke-width="0.9"/>
<line x1="403.38" y1="312.5" x2="403.38" y2="310.1" stroke="#b0b0b0" stroke-width="0.9"/>
<line x1="403.38" y1="187.5" x2="403.38" y2="189.9" stroke="#b0b0b0" stroke-width="0.9"/>
<line x1="431.1" y1="312.5" x2="431.1" y2="310.1" stroke="#b0b0b0" stroke-width="0.9"/>
<line x1="431.1" y1="187.5" x2="431.1" y2="189.9" stroke="#b0b0b0" stroke-width="0.9"/>
<line x1="458.82" y1="312.5" x2="458.82" y2="310.1" stroke="#b0b0b0" stroke-width="0.9"/>
<line x1="458.82" y1="187.5" x2="458.82" y2="189.9" stroke="#b0b0b0" stroke-width="0.9"/>
<line x1="486.55" y1="312.5" x2="486.55" y2="310.1" stroke="#b0b0b0" stroke-width="0.9"/>
<line x1="486.55" y1="187.5" x2="486.55" y2="189.9" stroke="#b0b0b0" stroke-width="0.9"/>
<line x1="514.27" y1="312.5" x2="514.27" y2="310.1" stroke="#b0b0b0" stroke-width="0.9"/>
<line x1="514.27" y1="187.5" x2="514.27" y2="189.9" stroke="#b0b0b0" stroke-width="0.9"/>
<line x1="542" y1="312.5" x2="542" y2="310.1" stroke="#b0b0b0" stroke-width="0.9"/>
<line x1="542" y1="187.5" x2="542" y2="189.9" stroke="#b0b0b0" stroke-width="0.9"/>
<line x1="320.2" y1="312.5" x2="322.6" y2="312.5" stroke="#b0b0b0" stroke-width="0.9"/>
<line x1="542" y1="312.5" x2="539.6" y2="312.5" stroke="#b0b0b0" stroke-width="0.9"/>
<line x1="320.2" y1="287.5" x2="322.6" y2="287.5" stroke="#b0b0b0" stroke-width="0.9"/>
<line x1="542" y1="287.5" x2="539.6" y2="287.5" stroke="#b0b0b0" stroke-width="0.9"/>
<line x1="320.2" y1="262.5" x2="322.6" y2="262.5" stroke="#b0b0b0" stroke-width="0.9"/>
<line x1="542" y1="262.5" x2="539.6" y2="262.5" stroke="#b0b0b0" stroke-width="0.9"/>
<line x1="320.2" y1="237.5" x2="322.6" y2="237.5" stroke="#b0b0b0" stroke-width="0.9"/>
<line x1="542" y1="237.5" x2="539.6" y2="237.5" stroke="#b0b0b0" stroke-width="0.9"/>
<line x1="320.2" y1="212.5" x2="322.6" y2="212.5" stroke="#b0b0b0" stroke-width="0.9"/>
<line x1="542" y1="212.5" x2="539.6" y2="212.5" stroke="#b0b0b0" stroke-width="0.9"/>
<line x1="320.2" y1="187.5" x2="322.6" y2="187.5" stroke="#b0b0b0" stroke-width="0.9"/>
<line x1="542" y1="187.5" x2="539.6" y2="187.5" stroke="#b0b0b0" stroke-width="0.9"/>
<text transform="translate(320.20,323.70) scale(1,1.08)" text-anchor="middle" font-size="8.5">0</text>
<text transform="translate(347.93,323.70) scale(1,1.08)" text-anchor="middle" font-size="8.5">50</text>
<text transform="translate(375.65,323.70) scale(1,1.08)" text-anchor="middle" font-size="8.5">100</text>
<text transform="translate(403.38,323.70) scale(1,1.08)" text-anchor="middle" font-size="8.5">150</text>
<text transform="translate(431.10,323.70) scale(1,1.08)" text-anchor="middle" font-size="8.5">200</text>
<text transform="translate(458.82,323.70) scale(1,1.08)" text-anchor="middle" font-size="8.5">250</text>
<text transform="translate(486.55,323.70) scale(1,1.08)" text-anchor="middle" font-size="8.5">300</text>
<text transform="translate(514.27,323.70) scale(1,1.08)" text-anchor="middle" font-size="8.5">350</text>
<text transform="translate(542.00,323.70) scale(1,1.08)" text-anchor="middle" font-size="8.5">400</text>
<text transform="translate(317.10,315.70) scale(1,1.08)" text-anchor="end" font-size="8.5">0</text>
<text transform="translate(317.10,290.70) scale(1,1.08)" text-anchor="end" font-size="8.5">10</text>
<text transform="translate(317.10,265.70) scale(1,1.08)" text-anchor="end" font-size="8.5">20</text>
<text transform="translate(317.10,240.70) scale(1,1.08)" text-anchor="end" font-size="8.5">30</text>
<text transform="translate(317.10,215.70) scale(1,1.08)" text-anchor="end" font-size="8.5">40</text>
<text transform="translate(317.10,190.70) scale(1,1.08)" text-anchor="end" font-size="8.5">50</text>
<text transform="translate(431.10,184.60) scale(1,1.08)" text-anchor="middle" font-size="9.8">MAE of UT1(1–360d)</text>
<text transform="translate(431.10,334.90) scale(1,1.08)" text-anchor="middle" font-size="9.6">Forecast days</text>
<text transform="translate(304.40,250.00) scale(1,1.08) rotate(-90)" class="yl" text-anchor="middle" font-size="9.1">Average prediction error(ms)</text>
<rect x="324.2" y="191.3" width="42.6" height="28.2" fill="#fff" stroke="#c8c8c8" stroke-width="0.9"/>
<line x1="326.2" y1="196.5" x2="341.2" y2="196.5" stroke="#0072BD" stroke-width="1.25"/>
<text transform="translate(342.80,199.60) scale(1,1.08)" font-size="7.7">Case 1</text>
<line x1="326.2" y1="205.35" x2="341.2" y2="205.35" stroke="#D95319" stroke-width="1.25"/>
<text transform="translate(342.80,208.45) scale(1,1.08)" font-size="7.7">Case 2</text>
<line x1="326.2" y1="214.2" x2="341.2" y2="214.2" stroke="#EDB120" stroke-width="1.25"/>
<text transform="translate(342.80,217.30) scale(1,1.08)" font-size="7.7">Case 3</text>
</svg>
</body></html>
